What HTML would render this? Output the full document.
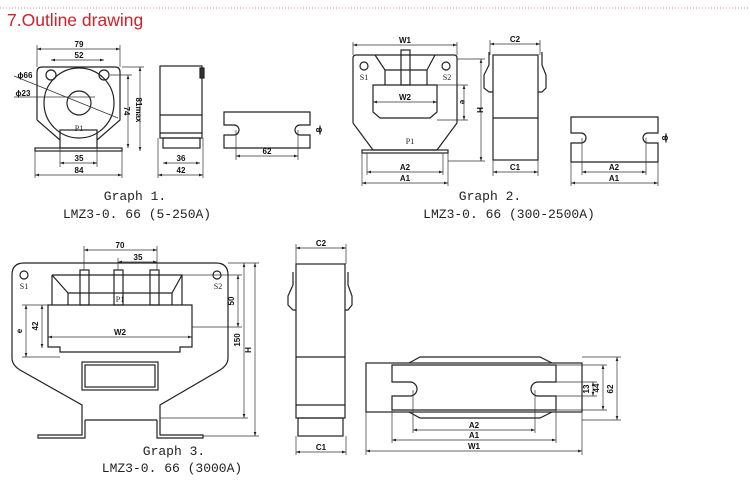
<!DOCTYPE html>
<html><head><meta charset="utf-8"><style>
html,body{margin:0;padding:0;background:#fff;width:750px;height:483px;overflow:hidden}
svg{display:block}
.l{stroke:#222;stroke-width:1.2;fill:none}
.t{stroke:#333;stroke-width:.7;fill:none}
.d{font-family:"Liberation Sans",sans-serif;font-size:8px;font-weight:bold;fill:#111;text-anchor:middle}
.c{font-family:"Liberation Mono",monospace;font-size:13px;fill:#222;text-anchor:middle}
.s{font-family:"Liberation Serif",serif;font-size:8px;fill:#222;text-anchor:middle}
</style></head><body>
<svg width="750" height="483" viewBox="0 0 750 483" xmlns="http://www.w3.org/2000/svg">
<defs><marker id="a" markerWidth="6" markerHeight="4" refX="6" refY="2" orient="auto-start-reverse"><path d="M0,0L6,2L0,4z" fill="#222"/></marker></defs>
<line x1="0" y1="8" x2="750" y2="8" stroke="#d88" stroke-dasharray="1,2"/>
<text x="7" y="26" font-family="Liberation Sans,sans-serif" font-size="17.5" fill="#d0202a">7.Outline drawing</text>

<!-- Graph 1 front -->
<g class="l">
<path d="M37,120 L37,72 Q37,67 42,67 L115,67 Q120,67 120,72 L120,120 L97,140 M37,120 L60,140"/>
<circle cx="79" cy="103" r="35"/><circle cx="79" cy="103" r="12"/>
<rect x="60" y="130" width="37" height="18"/>
<rect x="35" y="148" width="87" height="3"/>
<circle cx="51" cy="75" r="5"/><circle cx="104" cy="75" r="5"/>
</g>
<text x="79" y="131" class="s" font-size="13">P1</text>
<g class="t" marker-start="url(#a)" marker-end="url(#a)">
<line x1="37" y1="49" x2="120" y2="49"/><line x1="51" y1="60" x2="104" y2="60"/>
<line x1="60" y1="163" x2="97" y2="163"/><line x1="35" y1="175" x2="122" y2="175"/>
<line x1="128" y1="75" x2="128" y2="148"/><line x1="140" y1="67" x2="140" y2="151"/>
</g>
<g class="t"><line x1="37" y1="45" x2="37" y2="67"/><line x1="120" y1="45" x2="120" y2="67"/>
<line x1="60" y1="148" x2="60" y2="167"/><line x1="97" y1="148" x2="97" y2="167"/>
<line x1="35" y1="151" x2="35" y2="178"/><line x1="122" y1="151" x2="122" y2="178"/>
<line x1="110" y1="75" x2="132" y2="75"/><line x1="122" y1="67" x2="144" y2="67"/>
<line x1="14" y1="76" x2="118" y2="118"/><line x1="14" y1="97" x2="95" y2="97"/></g>
<text x="79" y="47" class="d">79</text><text x="79" y="58" class="d">52</text>
<text x="79" y="161" class="d">35</text><text x="79" y="173" class="d">84</text>
<text x="25" y="78" class="d">ϕ66</text><text x="23" y="96" class="d">ϕ23</text>
<text class="d" transform="translate(124,111) rotate(90)">74</text>
<text class="d" transform="translate(136,110) rotate(90)">81max</text>
<!-- Graph1 side -->
<g class="l"><rect x="160" y="66" width="42" height="72"/><line x1="160" y1="115" x2="202" y2="115"/><line x1="160" y1="133" x2="202" y2="133"/><rect x="163" y="138" width="37" height="10"/><rect x="200" y="68" width="4" height="10" fill="#333"/></g>
<g class="t" marker-start="url(#a)" marker-end="url(#a)"><line x1="163" y1="163" x2="200" y2="163"/><line x1="158" y1="175" x2="203" y2="175"/></g>
<g class="t"><line x1="158" y1="138" x2="158" y2="178"/><line x1="203" y1="138" x2="203" y2="178"/></g>
<text x="181" y="161" class="d">36</text><text x="181" y="173" class="d">42</text>
<!-- Graph1 plate -->
<path class="l" d="M224,112 L310,112 L310,125 L300,125 A5,5 0 0 0 300,135 L310,135 L310,148 L224,148 L224,135 L234,135 A5,5 0 0 0 234,125 L224,125 Z"/>
<g class="t" marker-start="url(#a)" marker-end="url(#a)"><line x1="236" y1="156" x2="298" y2="156"/><line x1="320" y1="125" x2="320" y2="135"/></g>
<g class="t"><line x1="236" y1="130" x2="236" y2="160"/><line x1="298" y1="130" x2="298" y2="160"/></g>
<text x="267" y="154" class="d">62</text><text class="d" transform="translate(316,130) rotate(90)">8</text>
<text x="135" y="200" class="c">Graph 1.</text><text x="137" y="218" class="c">LMZ3-0. 66 (5-250A)</text>

<!-- Graph 2 front -->
<g class="l">
<path d="M353,123 L353,58 Q353,55 356,55 L454,55 Q457,55 457,58 L457,123 L437,150 M353,123 L373,150"/>
<path d="M375,55 L385,70 L385,85 M435,55 L427,70 L427,85 M385,70 L427,70"/>
<path d="M373,85 L437,85 L437,112 L430,118 L380,118 L373,112 Z"/>
<rect x="401" y="50" width="9" height="35"/><line x1="373" y1="150" x2="437" y2="150"/>
<rect x="362" y="150" width="86" height="3"/>
<circle cx="364" cy="66" r="4"/><circle cx="446" cy="66" r="4"/>
</g>
<text x="364" y="80" class="s">S1</text><text x="447" y="80" class="s">S2</text>
<text x="410" y="144" class="s" font-size="17">P1</text>
<g class="t" marker-start="url(#a)" marker-end="url(#a)">
<line x1="353" y1="45" x2="457" y2="45"/><line x1="373" y1="102" x2="437" y2="102"/>
<line x1="367" y1="172" x2="443" y2="172"/><line x1="362" y1="183" x2="448" y2="183"/>
<line x1="464" y1="85" x2="464" y2="120"/><line x1="481" y1="59" x2="481" y2="161"/></g>
<g class="t"><line x1="353" y1="42" x2="353" y2="55"/><line x1="457" y1="42" x2="457" y2="55"/>
<line x1="362" y1="153" x2="362" y2="186"/><line x1="448" y1="153" x2="448" y2="186"/>
<line x1="367" y1="153" x2="367" y2="175"/><line x1="443" y1="153" x2="443" y2="175"/>
<line x1="457" y1="59" x2="485" y2="59"/><line x1="448" y1="161" x2="485" y2="161"/>
<line x1="437" y1="85" x2="468" y2="85"/><line x1="437" y1="120" x2="468" y2="120"/></g>
<text x="405" y="43" class="d">W1</text><text x="405" y="100" class="d">W2</text>
<text x="405" y="170" class="d">A2</text><text x="405" y="181" class="d">A1</text>
<text class="d" transform="translate(460,102) rotate(90)">e</text><text class="d" transform="translate(477,110) rotate(90)">H</text>
<!-- Graph2 side -->
<g class="l"><rect x="493" y="55" width="45" height="105"/><line x1="493" y1="118" x2="538" y2="118"/>
<path d="M489,52 L489,65 L484,75 L484,88 L489,92 L493,92 M542,52 L542,65 L546,75 L546,88 L542,92 L538,92"/></g>
<g class="t" marker-start="url(#a)" marker-end="url(#a)"><line x1="490" y1="44" x2="540" y2="44"/><line x1="493" y1="172" x2="538" y2="172"/></g>
<g class="t"><line x1="490" y1="40" x2="490" y2="55"/><line x1="540" y1="40" x2="540" y2="55"/><line x1="493" y1="160" x2="493" y2="176"/><line x1="538" y1="160" x2="538" y2="176"/></g>
<text x="515" y="42" class="d">C2</text><text x="515" y="170" class="d">C1</text>
<!-- Graph2 plate -->
<path class="l" d="M571,117 L658,117 L658,133 L648,133 A5,5 0 0 0 648,143 L658,143 L658,162 L571,162 L571,143 L581,143 A5,5 0 0 0 581,133 L571,133 Z"/>
<g class="t" marker-start="url(#a)" marker-end="url(#a)"><line x1="582" y1="172" x2="646" y2="172"/><line x1="571" y1="183" x2="658" y2="183"/><line x1="666" y1="133" x2="666" y2="143"/></g>
<g class="t"><line x1="582" y1="138" x2="582" y2="175"/><line x1="646" y1="138" x2="646" y2="175"/><line x1="571" y1="162" x2="571" y2="186"/><line x1="658" y1="162" x2="658" y2="186"/></g>
<text x="614" y="170" class="d">A2</text><text x="614" y="181" class="d">A1</text><text class="d" transform="translate(662,138) rotate(90)">8</text>
<text x="490" y="200" class="c">Graph 2.</text><text x="509" y="218" class="c">LMZ3-0. 66 (300-2500A)</text>

<!-- Graph 3 front -->
<g class="l">
<path d="M12,358 L12,275 Q12,263 24,263 L216,263 Q228,263 228,275 L228,358 Q228,365 220,370 L160,405 L160,432 M12,358 Q12,365 20,370 L82,405 L82,432"/>
<path d="M52,275 L182,275 L182,305 M52,275 L52,305 M52,275 L68,293 L68,305 M182,275 L172,293 L172,305 M68,293 L172,293"/>
<path d="M48,305 L192,305 L192,347 L180,347 L180,352 L60,352 L60,347 L48,347 Z"/>
<rect x="80" y="270" width="9" height="35"/><rect x="114" y="270" width="9" height="35"/><rect x="150" y="270" width="9" height="35"/>
<rect x="82" y="362" width="76" height="28"/><rect x="85" y="365" width="70" height="22"/>
<path d="M82,432 L82,435 L38,435 L38,438 L85,438 L85,420 M160,432 L160,435 L203,435 L203,438 L157,438 L157,420"/>
<line x1="85" y1="420" x2="157" y2="420"/>
<circle cx="24" cy="275" r="4"/><circle cx="217" cy="275" r="4"/>
</g>
<text x="24" y="289" class="s">S1</text><text x="218" y="289" class="s">S2</text><text x="120" y="302" class="s">P1</text>
<g class="t" marker-start="url(#a)" marker-end="url(#a)">
<line x1="84" y1="250" x2="157" y2="250"/><line x1="118" y1="262" x2="157" y2="262"/>
<line x1="48" y1="337" x2="192" y2="337"/><line x1="26" y1="305" x2="26" y2="357"/><line x1="42" y1="305" x2="42" y2="348"/>
<line x1="238" y1="275" x2="238" y2="327"/><line x1="244" y1="263" x2="244" y2="418"/><line x1="255" y1="263" x2="255" y2="436"/></g>
<g class="t"><line x1="84" y1="246" x2="84" y2="270"/><line x1="157" y1="246" x2="157" y2="270"/><line x1="118" y1="258" x2="118" y2="270"/>
<line x1="22" y1="305" x2="48" y2="305"/><line x1="22" y1="357" x2="60" y2="357"/><line x1="192" y1="327" x2="242" y2="327"/>
<line x1="228" y1="263" x2="259" y2="263"/><line x1="160" y1="418" x2="248" y2="418"/><line x1="203" y1="436" x2="259" y2="436"/><line x1="182" y1="275" x2="242" y2="275"/></g>
<text x="120" y="248" class="d">70</text><text x="138" y="260" class="d">35</text><text x="120" y="335" class="d">W2</text>
<text class="d" transform="translate(22,331) rotate(-90)">e</text><text class="d" transform="translate(38,326) rotate(-90)">42</text>
<text class="d" transform="translate(234,301) rotate(-90)">50</text><text class="d" transform="translate(240,340) rotate(-90)">150</text><text class="d" transform="translate(251,350) rotate(-90)">H</text>
<!-- Graph3 side -->
<g class="l"><rect x="296" y="264" width="49" height="154"/><line x1="296" y1="357" x2="345" y2="357"/><line x1="296" y1="405" x2="345" y2="405"/>
<rect x="298" y="418" width="45" height="18"/>
<path d="M293,272 L293,285 L288,296 L288,305 L293,310 L296,310 M348,272 L348,285 L352,296 L352,305 L348,310 L345,310"/></g>
<g class="t" marker-start="url(#a)" marker-end="url(#a)"><line x1="296" y1="248" x2="346" y2="248"/><line x1="296" y1="452" x2="346" y2="452"/></g>
<g class="t"><line x1="296" y1="244" x2="296" y2="264"/><line x1="346" y1="244" x2="346" y2="264"/><line x1="296" y1="436" x2="296" y2="455"/><line x1="346" y1="436" x2="346" y2="455"/></g>
<text x="321" y="246" class="d">C2</text><text x="321" y="450" class="d">C1</text>
<!-- Graph3 plate -->
<g class="l"><rect x="366" y="363" width="216" height="49"/>
<path d="M392,365 L556,365 L556,382 L538,382 A7,7 0 0 0 538,396 L556,396 L556,410 L392,410 L392,396 L410,396 A7,7 0 0 0 410,382 L392,382 Z"/>
<path d="M409,363 L420,357 L540,357 L552,363 M409,412 L420,418 L540,418 L552,412"/></g>
<g class="t" marker-start="url(#a)" marker-end="url(#a)"><line x1="413" y1="430" x2="535" y2="430"/><line x1="392" y1="440" x2="556" y2="440"/><line x1="366" y1="451" x2="582" y2="451"/>
<line x1="593" y1="382" x2="593" y2="396"/><line x1="603" y1="365" x2="603" y2="410"/><line x1="617" y1="357" x2="617" y2="420"/></g>
<g class="t"><line x1="413" y1="390" x2="413" y2="433"/><line x1="535" y1="390" x2="535" y2="433"/><line x1="392" y1="410" x2="392" y2="443"/><line x1="556" y1="410" x2="556" y2="443"/>
<line x1="366" y1="412" x2="366" y2="455"/><line x1="582" y1="412" x2="582" y2="455"/>
<line x1="556" y1="382" x2="597" y2="382"/><line x1="556" y1="396" x2="597" y2="396"/><line x1="556" y1="365" x2="607" y2="365"/><line x1="556" y1="410" x2="607" y2="410"/>
<line x1="582" y1="357" x2="621" y2="357"/><line x1="582" y1="420" x2="621" y2="420"/></g>
<text x="474" y="428" class="d">A2</text><text x="474" y="438" class="d">A1</text><text x="474" y="449" class="d">W1</text>
<text class="d" transform="translate(589,389) rotate(-90)">13</text><text class="d" transform="translate(599,388) rotate(-90)">44</text><text class="d" transform="translate(613,389) rotate(-90)">62</text>
<text x="174" y="455" class="c">Graph 3.</text><text x="172" y="472" class="c">LMZ3-0. 66 (3000A)</text>
</svg>
</body></html>
